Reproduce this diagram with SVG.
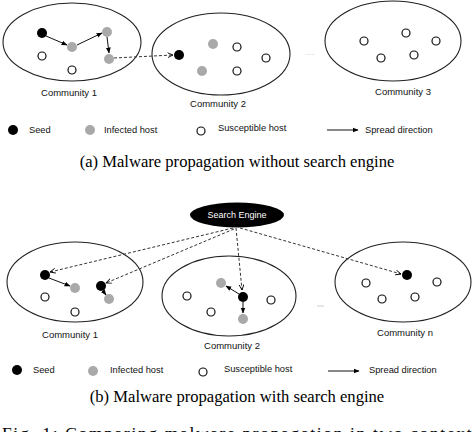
<svg xmlns="http://www.w3.org/2000/svg" width="474" height="432" viewBox="0 0 474 432">
<style>
.comm{fill:none;stroke:#222;stroke-width:1.1}
.seed{fill:#000}
.inf{fill:#a9a9a9}
.sus{fill:#fff;stroke:#111;stroke-width:1.2}
.arr{stroke:#111;stroke-width:1;fill:none;marker-end:url(#ah)}
.dash{stroke:#333;stroke-width:1;fill:none;stroke-dasharray:3 2;marker-end:url(#oh)}
.lbl{font-family:"Liberation Sans",Arial,sans-serif;font-size:9.5px;fill:#111}
.leg{font-family:"Liberation Sans",Arial,sans-serif;font-size:9.3px;fill:#111}
.cap{font-family:"Liberation Serif","Times New Roman",serif;font-size:16.6px;fill:#000}
</style>
<defs>
<marker id="ah" viewBox="0 0 10 10" refX="9" refY="5" markerWidth="6" markerHeight="6" markerUnits="userSpaceOnUse" orient="auto">
<path d="M0,1 L10,5 L0,9 Z" fill="#000"/>
</marker>
<marker id="oh" viewBox="0 0 10 10" refX="9" refY="5" markerWidth="6" markerHeight="6" markerUnits="userSpaceOnUse" orient="auto">
<path d="M0,1 L9,5 L0,9" fill="none" stroke="#000" stroke-width="1.5"/>
</marker>
</defs>

<!-- (a) -->
<g id="a-community1">
<ellipse class="comm" cx="72" cy="42" rx="69" ry="39"/>
<circle class="seed" cx="42" cy="33" r="5"/>
<circle class="inf" cx="72" cy="47" r="5"/>
<circle class="inf" cx="107" cy="32" r="5"/>
<circle class="inf" cx="109" cy="59" r="5"/>
<circle class="sus" cx="42" cy="56" r="4"/>
<circle class="sus" cx="72" cy="70" r="4"/>
<text class="lbl" x="69" y="96" text-anchor="middle">Community 1</text>
</g>
<g id="a-community2">
<ellipse class="comm" cx="221" cy="54" rx="69" ry="41"/>
<circle class="seed" cx="179" cy="55" r="5"/>
<circle class="inf" cx="213" cy="44" r="5"/>
<circle class="inf" cx="202" cy="71" r="5"/>
<circle class="sus" cx="237" cy="47" r="4"/>
<circle class="sus" cx="237" cy="71" r="4"/>
<circle class="sus" cx="266" cy="58" r="4"/>
<text class="lbl" x="218" y="107" text-anchor="middle">Community 2</text>
</g>
<g id="a-dots">
<text x="310" y="55" font-family="Liberation Sans,sans-serif" font-size="6" fill="#aaa" text-anchor="middle">......</text>
</g>
<g id="a-community3">
<ellipse class="comm" cx="393" cy="41" rx="68" ry="40"/>
<circle class="sus" cx="364" cy="41" r="4"/>
<circle class="sus" cx="406" cy="33" r="4"/>
<circle class="sus" cx="436" cy="41" r="4"/>
<circle class="sus" cx="381" cy="58" r="4"/>
<circle class="sus" cx="414" cy="55" r="4"/>
<text class="lbl" x="403" y="95" text-anchor="middle">Community 3</text>
</g>
<g id="a-connectors">
<line class="arr" x1="46" y1="36" x2="67" y2="45"/>
<line class="arr" x1="77" y1="45" x2="102" y2="33"/>
<line class="arr" x1="107" y1="37" x2="109" y2="53"/>
<line class="dash" x1="114" y1="58" x2="173" y2="55"/>
</g>
<g id="a-legend">
<circle class="seed" cx="13" cy="130" r="5"/>
<text class="leg" x="29" y="133">Seed</text>
<circle class="inf" cx="90" cy="130" r="5"/>
<text class="leg" x="104" y="133">Infected host</text>
<circle class="sus" cx="201" cy="131" r="4"/>
<text class="leg" x="218" y="131">Susceptible host</text>
<line class="arr" x1="327" y1="130" x2="358" y2="130"/>
<text class="leg" x="365" y="133">Spread direction</text>
</g>
<text class="cap" x="237" y="167" text-anchor="middle">(a) Malware propagation without search engine</text>

<!-- (b) -->
<g id="search-engine">
<ellipse cx="237" cy="215" rx="47" ry="12.5" fill="#000"/>
<text x="237" y="218" text-anchor="middle" font-family="Liberation Sans,Arial,sans-serif" font-size="9px" fill="#fff">Search Engine</text>
</g>
<g id="b-community1">
<ellipse class="comm" cx="75" cy="282" rx="68" ry="40"/>
<circle class="seed" cx="45" cy="275" r="5"/>
<circle class="inf" cx="75" cy="288" r="5"/>
<circle class="seed" cx="101" cy="286" r="5"/>
<circle class="inf" cx="109" cy="299" r="5"/>
<circle class="sus" cx="45" cy="297" r="4"/>
<circle class="sus" cx="75" cy="312" r="4"/>
<text class="lbl" x="70" y="338" text-anchor="middle">Community 1</text>
</g>
<g id="b-community2">
<ellipse class="comm" cx="229" cy="296" rx="67" ry="40"/>
<circle class="inf" cx="221" cy="283" r="5"/>
<circle class="seed" cx="243" cy="297" r="5"/>
<circle class="inf" cx="243" cy="319" r="5"/>
<circle class="sus" cx="187" cy="296" r="4"/>
<circle class="sus" cx="211" cy="312" r="4"/>
<circle class="sus" cx="271" cy="300" r="4"/>
<text class="lbl" x="232" y="349" text-anchor="middle">Community 2</text>
</g>
<g id="b-dash">
<line x1="317" y1="306" x2="324" y2="306" stroke="#ccc" stroke-width="1"/>
</g>
<g id="b-communityn">
<ellipse class="comm" cx="403" cy="282" rx="68" ry="40"/>
<circle class="seed" cx="407" cy="275" r="5"/>
<circle class="sus" cx="366" cy="283" r="4"/>
<circle class="sus" cx="382" cy="299" r="4"/>
<circle class="sus" cx="415" cy="297" r="4"/>
<circle class="sus" cx="437" cy="282" r="4"/>
<text class="lbl" x="405" y="336" text-anchor="middle">Community n</text>
</g>
<g id="b-connectors">
<line class="dash" x1="233" y1="228" x2="50" y2="272"/>
<line class="dash" x1="234" y1="229" x2="106" y2="283"/>
<line class="dash" x1="236" y1="228" x2="242" y2="290"/>
<line class="dash" x1="240" y1="228" x2="401" y2="274"/>
<line class="arr" x1="49" y1="278" x2="70" y2="286"/>
<line class="arr" x1="103" y1="291" x2="106" y2="295"/>
<line class="arr" x1="239" y1="294" x2="226" y2="286"/>
<line class="arr" x1="243" y1="302" x2="243" y2="313"/>
</g>
<g id="b-legend">
<circle class="seed" cx="17" cy="370" r="5"/>
<text class="leg" x="33" y="373">Seed</text>
<circle class="inf" cx="93" cy="371" r="5"/>
<text class="leg" x="110" y="373">Infected host</text>
<circle class="sus" cx="203" cy="372" r="4"/>
<text class="leg" x="224" y="372">Susceptible host</text>
<line class="arr" x1="328" y1="371" x2="359" y2="371"/>
<text class="leg" x="369" y="373">Spread direction</text>
</g>
<text class="cap" x="237" y="402" text-anchor="middle">(b) Malware propagation with search engine</text>
<text x="2" y="439" font-family="Liberation Serif,Times New Roman,serif" font-size="17.5px" fill="#000" textLength="478" lengthAdjust="spacing">Fig. 1: Comparing malware propagation in two contexts</text>
</svg>
